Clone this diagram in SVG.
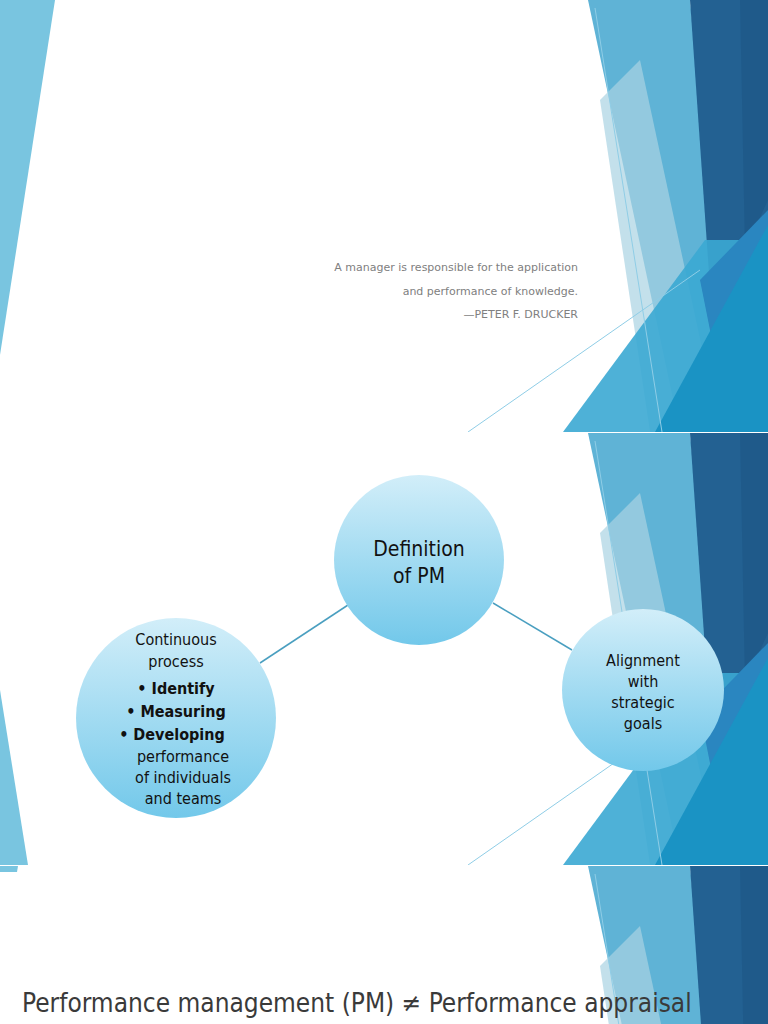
<svg xmlns="http://www.w3.org/2000/svg" xmlns:xlink="http://www.w3.org/1999/xlink" width="768" height="1024" viewBox="0 0 768 1024">
<style>
.q{font-family:"DejaVu Sans",sans-serif;font-size:11px;fill:#808080;text-anchor:end}
.t{font-family:"DejaVu Sans Condensed","DejaVu Sans",sans-serif;fill:#111;text-anchor:middle}
.b{font-weight:bold}
.con{stroke:#4a9fc0;stroke-width:1.5;fill:none}
</style>
<defs>
<linearGradient id="cg" x1="0" y1="0" x2="0" y2="1"><stop offset="0" stop-color="#d2eef9"/><stop offset="1" stop-color="#72c8ea"/></linearGradient>
<clipPath id="sc"><rect x="0" y="0" width="768" height="432"/></clipPath>
<g id="deco" clip-path="url(#sc)">
<polygon points="588,0 690,0 735,432 680,432" fill="#5fb3d6"/>
<polygon points="690,0 768,0 768,432 720,432" fill="#236192"/>
<polygon points="740,0 768,0 768,200 745,250" fill="#1f5a8a"/>
<polygon points="600,100 640,60 720,432 650,432" fill="#a9d3e2" opacity="0.7"/>
<polygon points="563,432 705,240 740,240 710,432" fill="#3ba9d3" opacity="0.9"/>
<polygon points="700,280 768,210 768,330 720,380" fill="#2a86c0"/>
<polygon points="655,432 768,225 768,432" fill="#1a93c4"/>
<line x1="595" y1="8" x2="662" y2="432" stroke="#8fcde6" stroke-width="1"/>
<line x1="468" y1="432" x2="700" y2="270" stroke="#8fcde6" stroke-width="1"/>
</g>
</defs>
<rect width="768" height="1024" fill="#fff"/>
<use xlink:href="#deco"/>
<use xlink:href="#deco" y="433"/>
<g clip-path="url(#bc)"><use xlink:href="#deco" y="866"/></g>
<polygon points="0,0 55,0 0,355" fill="#79c5e0"/>
<polygon points="0,690 28,865 0,865" fill="#79c5e0"/>
<polygon points="0,866 18,866 17,872 0,872" fill="#79c5e0"/>
<rect x="0" y="432" width="768" height="1" fill="#fff"/>
<rect x="0" y="865" width="768" height="1" fill="#fff"/>
<g id="quote">
<text class="q" x="578" y="271">A manager is responsible for the application</text>
<text class="q" x="578" y="295">and performance of knowledge.</text>
<text class="q" x="578" y="318">—PETER F. DRUCKER</text>
</g>
<g id="connectors">
<line class="con" x1="348" y1="605" x2="260" y2="663"/>
<line class="con" x1="493" y1="603" x2="572" y2="650"/>
</g>
<g id="def">
<circle cx="419" cy="560" r="85" fill="url(#cg)"/>
<text class="t" x="419" y="556" font-size="21">Definition</text>
<text class="t" x="419" y="583" font-size="21">of PM</text>
</g>
<g id="cont">
<circle cx="176" cy="718" r="100" fill="url(#cg)"/>
<text class="t" font-size="16" x="176" y="645">Continuous</text>
<text class="t" font-size="16" x="176" y="667">process</text>
<text class="t b" font-size="16" x="176" y="694">• Identify</text>
<text class="t b" font-size="16" x="176" y="717">• Measuring</text>
<text class="t b" font-size="16" x="172" y="740">• Developing</text>
<text class="t" font-size="16" x="183" y="762">performance</text>
<text class="t" font-size="16" x="183" y="783">of individuals</text>
<text class="t" font-size="16" x="183" y="804">and teams</text>
</g>
<g id="align">
<circle cx="643" cy="690" r="81" fill="url(#cg)"/>
<text class="t" font-size="16" x="643" y="666">Alignment</text>
<text class="t" font-size="16" x="643" y="687">with</text>
<text class="t" font-size="16" x="643" y="708">strategic</text>
<text class="t" font-size="16" x="643" y="729">goals</text>
</g>
<text x="22" y="1012" font-family="DejaVu Sans Condensed, DejaVu Sans, sans-serif" font-size="26" fill="#3a3a3a">Performance management (PM) ≠ Performance appraisal</text>
</svg>
